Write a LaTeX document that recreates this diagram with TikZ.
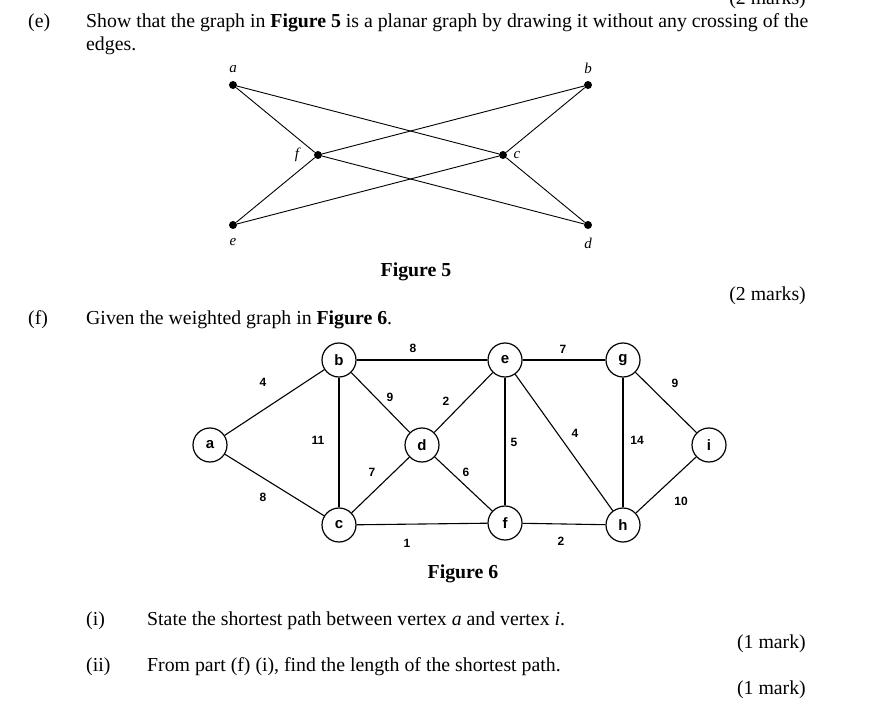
\documentclass[tikz,border=0pt]{standalone}
\usepackage{fontspec}
\setmainfont{Liberation Serif}
\newfontfamily\sansf{Liberation Sans}
\begin{document}
\begin{tikzpicture}[x=1pt,y=-1pt,
  txt/.style={anchor=base west,inner sep=0,font=\fontsize{19.8}{21}\selectfont},
  rtxt/.style={anchor=base east,inner sep=0,font=\fontsize{19.8}{21}\selectfont},
  dot/.style={circle,fill=black,inner sep=0,minimum size=8pt},
  lab/.style={font=\itshape\fontsize{15}{17}\selectfont,inner sep=1pt},
  v/.style={circle,draw,line width=1.2pt,minimum size=34pt,inner sep=0,font=\sansf\bfseries\fontsize{15}{16}\selectfont},
  w/.style={font=\sansf\bfseries\fontsize{12}{13}\selectfont,inner sep=0},
  ed/.style={line width=1.1pt}]
\useasboundingbox (0,0) rectangle (887,722);
\node[rtxt] (m0) at (806,5) {(2 marks)};
\node[txt] (e0) at (28,28) {(e)};
\node[txt] (e1) at (86,28) {Show that the graph in \textbf{Figure 5} is a planar graph by drawing it without any crossing of the};
\node[txt] (e2) at (86,51) {edges.};
% Figure 5
\node[dot] (a) at (233,85) {}; \node[dot] (b) at (588,85) {};
\node[dot] (f) at (318,155) {}; \node[dot] (c) at (503,155) {};
\node[dot] (e) at (233,225) {}; \node[dot] (d) at (588,225) {};
\foreach \u/\t in {a/c,a/f,e/f,e/c,f/b,f/d,c/b,c/d} \draw[line width=0.9pt] (\u) -- (\t);
\node[lab] (la) at (233,69) {a}; \node[lab] (lb) at (588,68) {b};
\node[lab] (lf) at (297,155) {f}; \node[lab] (lc) at (517,155) {c};
\node[lab] (le) at (233,242) {e}; \node[lab] (ld) at (588,243) {d};
\node[font=\bfseries\fontsize{19.8}{21}\selectfont] (F5) at (416,272) {Figure 5};
\node[rtxt] (m1) at (806,301) {(2 marks)};
\node[txt] (f0) at (28,324) {(f)};
\node[txt] (f1) at (86,324) {Given the weighted graph in \textbf{Figure 6}.};
% Figure 6
\node[v] (A) at (210,445) {a}; \node[v] (B) at (339,360) {b}; \node[v] (E) at (505,360) {e};
\node[v] (G) at (623,360) {g}; \node[v] (D) at (422,445) {d}; \node[v] (I) at (709,445) {i};
\node[v] (C) at (339,525) {c}; \node[v] (Fv) at (505,523) {f}; \node[v] (H) at (623,525) {h};
\foreach \u/\t in {A/B,A/C,B/E,B/C,B/D,D/E,D/C,D/Fv,E/G,E/Fv,E/H,G/H,G/I,I/H,C/Fv,Fv/H} \draw[ed] (\u) -- (\t);
\node[w] at (263,382) {4}; \node[w] at (413,348) {8}; \node[w] at (563,349) {7};
\node[w] at (390,397) {9}; \node[w] at (446,401) {2}; \node[w] at (318,440) {11};
\node[w] at (514,442) {5}; \node[w] at (575,433) {4}; \node[w] at (637,440) {14};
\node[w] at (675,383) {9}; \node[w] at (372,472) {7}; \node[w] at (466,472) {6};
\node[w] at (263,497) {8}; \node[w] at (681,501) {10}; \node[w] at (407,543) {1};
\node[w] at (561,541) {2};
\node[font=\bfseries\fontsize{19.8}{21}\selectfont] (F6) at (463,574) {Figure 6};
\node[txt] (i0) at (86,625) {(i)};
\node[txt] (i1) at (147,625) {State the shortest path between vertex \textit{a} and vertex \textit{i}.};
\node[rtxt] (m2) at (806,648) {(1 mark)};
\node[txt] (ii0) at (86,671) {(ii)};
\node[txt] (ii1) at (147,671) {From part (f) (i), find the length of the shortest path.};
\node[rtxt] (m3) at (806,694) {(1 mark)};
\end{tikzpicture}
\end{document}
